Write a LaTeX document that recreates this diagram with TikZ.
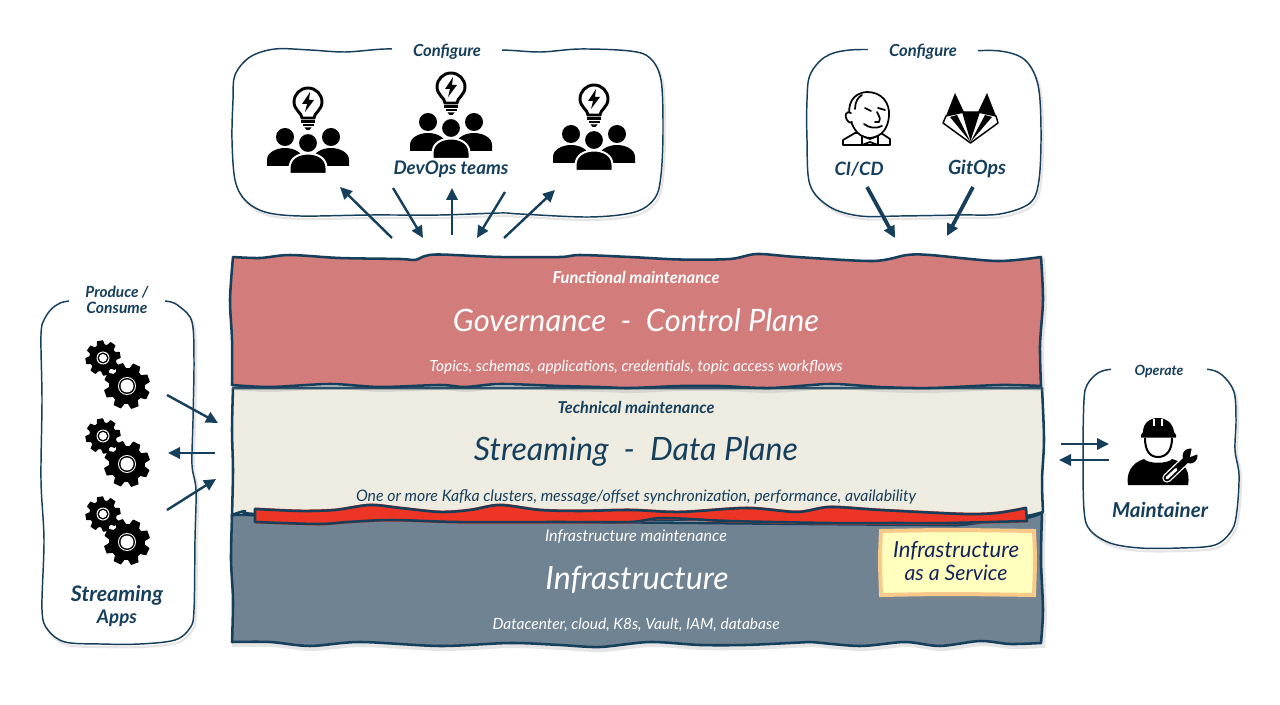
\documentclass[tikz,border=0pt]{standalone}
\usepackage{fontspec}
\usepackage{graphicx}
\setmainfont{Lato}
\usetikzlibrary{arrows.meta}
\definecolor{navy}{HTML}{163F5C}
\definecolor{bandred}{HTML}{D27C7B}
\definecolor{bandbeige}{HTML}{EEECE1}
\definecolor{bandslate}{HTML}{708392}
\definecolor{hotred}{HTML}{EC3524}
\definecolor{notefill}{HTML}{FFFFBE}
\definecolor{noteedge}{HTML}{F9C98A}
\definecolor{notetext}{HTML}{14235C}
\newdimen\px \px=.75pt
\newcommand{\fit}[2]{\resizebox{#1\px}{!}{\itshape #2}}
% ---------- outlines
\def\boxA{plot[smooth cycle,tension=.55] coordinates {(233,100)(235,75)(250,57)(275,49)(310,50)(345,52)(385,49)(420,50)(500,50)(540,52)(580,49)(630,51)(650,58)(661,80)(663,130)(661,175)(655,198)(635,212)(590,217)(520,214)(500,213)(440,215)(370,215)(300,216)(265,212)(245,200)(235,180)(232,140)}}
\def\boxB{plot[smooth cycle,tension=.55] coordinates {(807,100)(810,75)(825,57)(850,50)(900,50)(960,51)(1000,51)(1025,60)(1038,85)(1041,130)(1039,180)(1030,203)(1000,214)(960,215)(900,216)(860,216)(830,207)(810,185)(807,140)}}
\def\boxC{plot[smooth cycle,tension=.55] coordinates {(41,335)(45,318)(55,306)(70,301)(117,300)(165,301)(180,307)(192,322)(194,360)(193,420)(192,465)(196,490)(195,540)(194,610)(190,628)(175,640)(140,644)(100,644)(65,642)(48,630)(42,610)(44,540)(41,480)(42,400)}}
\def\boxD{plot[smooth cycle,tension=.55] coordinates {(1084,400)(1087,385)(1098,373)(1115,369)(1160,369)(1205,369)(1222,375)(1234,392)(1236,420)(1235,450)(1239,475)(1237,510)(1232,530)(1215,545)(1180,548)(1140,548)(1110,543)(1090,530)(1084,510)(1083,450)}}
\def\bandTop{plot[smooth,tension=.5] coordinates {(233,257)(260,258)(290,255)(340,258)(400,259)(415,260)(425,256)(440,254.5)(500,257)(560,257)(580,255)(630,257)(680,259.5)(730,259)(757,254)(797,257)(873,261)(907,255)(930,255)(997,261)(1041,257)}
 -- plot[smooth,tension=.5] coordinates {(1041,257)(1043,300)(1040,345)(1041,386)}
 -- plot[smooth,tension=.5] coordinates {(1041,386)(1000,385)(930,388)(880,387)(830,384)(770,388)(720,386)(680,386)(630,388)(600,387)(560,386)(500,384)(465,387)(440,385)(380,387)(330,384)(270,387)(232,385)}
 -- plot[smooth,tension=.5] coordinates {(232,385)(232,340)(230,300)(233,257)} -- cycle}
\def\bandMid{plot[smooth,tension=.5] coordinates {(233,388)(400,388)(700,388)(1042,388)}
 -- plot[smooth,tension=.5] coordinates {(1042,388)(1044,440)(1042,480)(1043,512)}
 -- plot[smooth,tension=.5] coordinates {(1043,512)(1026,516)(1000,516)(800,520)(600,520)(400,520)(255,514)(245,511)(232,515)}
 -- plot[smooth,tension=.5] coordinates {(232,515)(233,470)(232,430)(233,388)} -- cycle}
\def\bandLow{plot[smooth,tension=.5] coordinates {(232,516)(250,515)(400,520)(700,523)(930,525)(960,525)(985,522)(1026,518)(1042,513)}
 -- plot[smooth,tension=.5] coordinates {(1042,513)(1041,560)(1043,610)(1041,643)}
 -- plot[smooth,tension=.5] coordinates {(1041,643)(1010,644)(980,641)(940,646)(905,642)(860,646)(810,642)(790,643)(745,645)(700,645)(650,642)(600,647)(560,645)(510,643)(440,646)(360,642)(310,646)(270,642)(232,642)}
 -- plot[smooth,tension=.5] coordinates {(232,642)(233,600)(231,560)(232,516)} -- cycle}
\def\strip{plot[smooth,tension=.5] coordinates {(255,509)(300,511)(335,510)(370,505)(400,508)(440,512)(470,510)(500,505)(540,510)(580,511)(630,510)(680,512)(747,508)(797,512)(830,507)(880,510)(963,514)(997,513)(1026,508)}
 -- (1027,521)
 -- plot[smooth,tension=.5] coordinates {(1027,521)(947,523)(897,523)(830,523)(730,521)(663,518)(630,522)(558,522)(458,522)(392,520)(348,522)(318,524)(255,522)}
 -- cycle}
\def\noteshape{plot[smooth,tension=.5] coordinates {(881,531)(950,530)(1034,531)} -- plot[smooth,tension=.5] coordinates {(1034,531)(1035,560)(1034,595)} -- plot[smooth,tension=.5] coordinates {(1034,595)(950,594)(881,595)} -- plot[smooth,tension=.5] coordinates {(881,595)(880,560)(881,531)} -- cycle}
\tikzset{
  x=.75pt,y=-.75pt,
  sketchbox/.style={draw=navy,line width=1.1pt,fill=white},
  softshadow/.style={draw=black!45,line width=1.6pt,opacity=.22,shift={(2,3)}},
  bandline/.style={draw=navy,line width=1.9pt,line join=round},
  arrowline/.style={draw=navy,line width=1.8pt,-{Triangle[length=9pt,width=8.5pt]}},
  heavyarrow/.style={draw=navy,line width=2.8pt,-{Triangle[length=9pt,width=8.5pt]}},
  boxlabel/.style={fill=white,inner sep=0pt,text=navy,align=center},
  inktext/.style={text=navy,inner sep=0pt,align=center},
  whitetext/.style={text=white,inner sep=0pt,align=center},
  person/.pic={
    \fill (-41,23) -- (-41,17) .. controls (-41,9) and (-31,5) .. (-23,5) .. controls (-15,5) and (-5,9) .. (-5,17) -- (-5,23) -- cycle;
    \fill (41,23) -- (41,17) .. controls (41,9) and (31,5) .. (23,5) .. controls (15,5) and (5,9) .. (5,17) -- (5,23) -- cycle;
    \fill (-23,-6) circle (9);
    \fill (23,-6) circle (9);
    \draw[white,line width=1.5pt,fill=black] (0,0) circle (10);
    \draw[white,line width=1.5pt,fill=black] (-18.5,31) -- (-18.5,25) .. controls (-18.5,15) and (-9,10.5) .. (0,10.5) .. controls (9,10.5) and (18.5,15) .. (18.5,25) -- (18.5,31) -- cycle;
    % bulb
    \draw[black,line width=2.2pt,fill=white] (-6,-25) .. controls (-6,-30) and (-14,-33) .. (-14,-41) arc[start angle=180,end angle=360,radius=14] .. controls (14,-33) and (6,-30) .. (6,-25) -- cycle;
    \fill (2,-51) -- (-6,-39) -- (-1,-39) -- (-3,-31) -- (6,-43) -- (1,-43) -- cycle;
    \draw[black,line width=1.6pt] (-7,-21.5) -- (7,-21.5) (-5.5,-18) -- (5.5,-18);
    \fill (-3.5,-15.5) -- (3.5,-15.5) -- (1.5,-13) -- (-1.5,-13) -- cycle;
  },
  pics/cog/.style args={#1/#2/#3}{code={
    \fill[white] (0,0) circle (#1*.88);
    \foreach \a in {0,45,...,315}{
      \fill[rotate=\a+#3] (-#1*.26,#1*.62) -- (-#1*.17,#1) -- (#1*.17,#1) -- (#1*.26,#1*.62) -- cycle;
    }
    \fill (0,0) circle (#1*.78);
    \fill[white] (0,0) circle (#2+2);
    \fill (0,0) circle (#2+1);
    \fill[white] (0,0) circle (#2-.5);
  }},
  pics/gearpair/.style={code={
    \pic at (0,0) {cog={17.5/4.5/10}};
    \pic at (24,28) {cog={23/7/20}};
  }},
}
\begin{document}
\begin{tikzpicture}
\useasboundingbox[fill=white] (0,0) rectangle (1280,705);
% ---- outer boxes
\foreach \p in {\boxA,\boxB,\boxC,\boxD}{
  \draw[softshadow] \p;
  \draw[sketchbox] \p;
}
% ---- bands
\draw[softshadow,line width=3pt] \bandLow;
\fill[bandbeige] \bandMid;
\draw[bandline] \bandMid;
\fill[bandslate] \bandLow;
\draw[bandline] \bandLow;
\fill[hotred,shift={(0,-1.5)}] \strip;
\fill[hotred,shift={(0,1.5)}] \strip;
\draw[bandline,fill=hotred] \strip;
\draw[softshadow,line width=3pt] \bandTop;
\fill[bandred] \bandTop;
\draw[bandline] \bandTop;
% note
\draw[softshadow,line width=3pt] \noteshape;
\draw[noteedge,line width=3pt,fill=notefill] \noteshape;
% ---- band texts
\node[whitetext] (funcm) at (636,277) {\fit{167}{\bfseries Functional maintenance}};
\node[whitetext] (gov) at (636,320) {\fit{366}{Governance\ \ -\ \ Control Plane}};
\node[whitetext] (topics) at (636,367) {\fit{413}{Topics, schemas, applications, credentials, topic access workflows}};
\node[inktext] (techm) at (636,407) {\fit{157}{\bfseries Technical maintenance}};
\node[inktext] (stream) at (636,452) {\fit{324}{Streaming\ \ -\ \ Data Plane}};
\node[inktext] (kafka) at (636,497) {\fit{560}{One or more Kafka clusters, message/offset synchronization, performance, availability}};
\node[whitetext] (infram) at (636,537) {\fit{182}{Infrastructure maintenance}};
\node[whitetext] (infra) at (637,580) {\fit{183}{Infrastructure}};
\node[whitetext] (dc) at (636,625) {\fit{287}{Datacenter, cloud, K8s, Vault, IAM, database}};
\node[text=notetext,inner sep=0pt,align=center] (iaas) at (956,561) {\fit{126}{Infrastructure}\\[2pt]\fit{103}{as a Service}};
% ---- box labels
\node[boxlabel,minimum width=82pt,minimum height=15pt] (cfgA) at (447,52) {\fit{68}{\bfseries Configure}};
\node[boxlabel,minimum width=82pt,minimum height=15pt] (cfgB) at (923,52) {\fit{68}{\bfseries Configure}};
\node[boxlabel,minimum width=72pt,minimum height=26pt] (prod) at (117,300) {\fit{63}{\bfseries Produce /}\\[0pt]\fit{61}{\bfseries Consume}};
\node[boxlabel,minimum width=72pt,minimum height=15pt] (oper) at (1159,372) {\fit{49}{\bfseries Operate}};
\node[inktext] (devops) at (451,169) {\fit{115}{\bfseries DevOps teams}};
\node[inktext] (cicd) at (859,169) {\fit{49}{\bfseries CI/CD}};
\node[inktext] (gitops) at (977,169) {\fit{58}{\bfseries GitOps}};
\node[inktext] (apps) at (117,606) {\fit{92}{\bfseries Streaming}\\[3pt]\fit{40}{\bfseries Apps}};
\node[inktext] (maint) at (1160,510) {\fit{96}{\bfseries Maintainer}};
% ---- teams
\pic at (308,143) {person};
\pic at (451,128) {person};
\pic at (594,140) {person};
% ---- gears
\pic at (103,358) {gearpair};
\pic at (103,436) {gearpair};
\pic at (103,514) {gearpair};
% ---- Jenkins
\begin{scope}[line width=1.3pt,line join=round,line cap=round]
  \draw[fill=white] (843,145) -- (843,140) -- (855,133) -- (881,133) -- (890,139) -- (890,145) -- cycle;
  \draw[fill=white] (850,118) .. controls (847,105) and (852,93) .. (867,92) .. controls (882,92) and (890,103) .. (889,116) .. controls (888,128) and (882,137) .. (870,138) .. controls (860,138) and (853,130) .. (850,118) -- cycle;
  \draw[fill=white] (851,113) .. controls (846,110) and (844,116) .. (847,120) .. controls (849,123) and (851,123) .. (852,122);
  \draw (855,109) .. controls (855,102) and (858,97) .. (862,95);
  \draw (865,108) -- (871,111) (878,108) -- (885,110);
  \draw (877,112) .. controls (880,118) and (881,120) .. (879,122) -- (875,122);
  \draw (864,124) .. controls (869,128) and (876,129) .. (882,126);
  \draw[fill=white] (862,136) -- (862,145) -- (870,142) -- (878,145) -- (878,136) -- (870,139) -- cycle;
\end{scope}
% ---- GitLab
\fill (955,93) -- (946,116) -- (964,112) -- cycle;
\fill (987,93) -- (996,116) -- (978,112) -- cycle;
\draw[line width=1.1pt,line join=round,fill=white] (946,116) -- (943,123) -- (970.5,143) -- (998,123) -- (996,116) -- (978,112) -- (964,112) -- cycle;
\fill (962,112) -- (980,112) -- (970.5,141) -- cycle;
\fill (950,117) -- (957,115) -- (970.5,142) -- cycle;
\fill (992,117) -- (985,115) -- (970.5,142) -- cycle;
% ---- Maintainer
\fill (1128,485) -- (1188,485) .. controls (1190,474) and (1187,463) .. (1172,459) .. controls (1168,464) and (1148,464) .. (1144,459) .. controls (1131,463) and (1126,474) .. (1128,485) -- cycle;
\draw[black,line width=1.5pt] (1145,438) .. controls (1145,451) and (1150,457) .. (1158,457) .. controls (1166,457) and (1172,451) .. (1172,438);
\fill (1143,432) .. controls (1143,423) and (1150,418) .. (1158,418) .. controls (1166,418) and (1173,423) .. (1174,432) -- (1176,435) -- (1176,437.5) -- (1141,437.5) -- (1141,435) -- cycle;
\draw[white,line width=.8pt] (1154,419) -- (1154,426) (1162,419) -- (1162,426);
\draw[white,line width=7pt,line cap=round] (1167,478) -- (1186,460);
\draw[black,line width=5pt,line cap=round] (1167,478) -- (1186,460);
\draw[white,line width=2.2pt,line cap=round] (1167,478) -- (1176,469.5);
\fill (1190,456) circle (7.5);
\fill[white] (1190,457) -- (1192,447) -- (1201,453) -- cycle;
% ---- connectors
\coordinate (tA1) at (392,238); \coordinate (hA1) at (340,187);
\coordinate (tA2) at (393,188); \coordinate (hA2) at (423,238);
\coordinate (tA3) at (452,235); \coordinate (hA3) at (452,188);
\coordinate (tA4) at (505,192); \coordinate (hA4) at (477,238);
\coordinate (tA5) at (504,238); \coordinate (hA5) at (555,190);
\coordinate (tB1) at (867,187); \coordinate (hB1) at (895,238);
\coordinate (tB2) at (973,187); \coordinate (hB2) at (947,236);
\coordinate (tC1) at (167,395); \coordinate (hC1) at (218,423);
\coordinate (tC2) at (215,453); \coordinate (hC2) at (168,453);
\coordinate (tC3) at (167,510); \coordinate (hC3) at (216,479);
\coordinate (tD1) at (1061,444); \coordinate (hD1) at (1109,444);
\coordinate (tD2) at (1109,460); \coordinate (hD2) at (1059,460);
\foreach \a/\b in {tA1/hA1,tA2/hA2,tA3/hA3,tA4/hA4,tA5/hA5,tD1/hD1,tD2/hD2,tC1/hC1,tC2/hC2,tC3/hC3}{
  \draw[arrowline] (\a) -- (\b);
}
\draw[heavyarrow] (tB1) -- (hB1);
\draw[heavyarrow] (tB2) -- (hB2);
\end{tikzpicture}
\end{document}
